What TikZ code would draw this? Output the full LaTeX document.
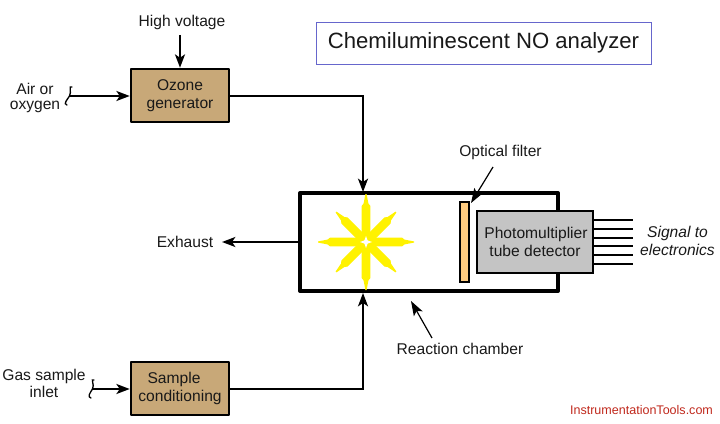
\documentclass[tikz,border=0pt]{standalone}
\usepackage{fontspec}
\setmainfont{Liberation Sans}
\usetikzlibrary{arrows.meta,calc}
\definecolor{boxtan}{HTML}{C8A878}
\definecolor{filterorange}{HTML}{FFCC80}
\definecolor{pmtgrey}{HTML}{C4C4C4}
\definecolor{titleblue}{HTML}{6666CC}
\definecolor{brandred}{HTML}{C0281C}
\tikzset{
  x=0.75pt,y=-0.75pt,
  lbl/.style={font=\fontsize{11.7}{13.5}\selectfont,align=center,inner sep=0pt,text=black!90},
  tanbox/.style={draw,fill=boxtan,line width=1.9pt,minimum width=73.5pt,minimum height=39.75pt,lbl,line join=round},
  flow/.style={line width=1.45pt,-{Stealth[length=10pt,width=7.5pt,inset=2.5pt]}},
  thin arrow/.style={line width=0.9pt,-{Stealth[length=11pt,width=7.5pt,inset=2.5pt]}},
  wire/.style={line width=1.5pt},
  wiggle/.style={line width=1pt,line cap=round},
}
\begin{document}
\begin{tikzpicture}
\useasboundingbox (0,0) rectangle (720,424);
% title
\node[draw=titleblue,line width=0.6pt,minimum width=251.25pt,minimum height=31.5pt,inner sep=0pt,font=\fontsize{16.6}{18}\selectfont,text=black!90] (title) at (483.5,43) {Chemiluminescent NO analyzer};
% boxes
\node[tanbox] (ozone) at (180,95.5) {\raisebox{-1pt}{Ozone}\\\raisebox{-1pt}{generator}};
\node[tanbox] (sample) at (180,388.5) {\raisebox{-1pt}{Sample\hspace{9pt}}\\\raisebox{-1pt}{conditioning}};
\node[draw,line width=3pt,line join=round,minimum width=193.5pt,minimum height=73.5pt] (chamber) at (429,242) {};
% star
\coordinate (starc) at (366,242);
\foreach \a/\r in {0/48,90/48,180/48,270/48,45/42.4,135/42.4,225/42.4,315/42.4}{
  \fill[yellow,shift={(starc)},rotate=\a] (0,4) -- (-4.4,4) -- (-4.4,{\r-12}) -- (-2.4,{\r-9.5}) -- (-0.6,\r) -- (0.6,\r) -- (2.4,{\r-9.5}) -- (4.4,{\r-12}) -- (4.4,4) -- cycle;
}
\fill[yellow,shift={(starc)}] (-7,-7) rectangle (7,7);
\fill[white,shift={(starc)}] (0,-6) -- (1.6,-1.6) -- (6,0) -- (1.6,1.6) -- (0,6) -- (-1.6,1.6) -- (-6,0) -- (-1.6,-1.6) -- cycle;
% filter and detector
\node[draw,fill=filterorange,line width=0.9pt,minimum width=6.75pt,minimum height=60pt,inner sep=0pt] (filter) at (464.5,242) {};
\foreach \n/\y in {a/220,b/229,c/237.5,d/246,e/255,f/264}{
  \coordinate (pin\n) at (593,\y);
  \coordinate (end\n) at (633,\y);
  \draw[wire] (pin\n) -- (end\n);
}
\node[draw,fill=pmtgrey,line width=1.3pt,minimum width=87pt,minimum height=46.5pt,lbl] (pmt) at (535,242) {\hspace{1.5pt}Photomultiplier\\tube detector};
% labels
\node[lbl] (hv) at (182,22.5) {High voltage};
\node[lbl,font=\fontsize{11.7}{10.6}\selectfont] (air) at (35,98) {Air or\hspace{2pt}\\oxygen};
\node[lbl,font=\fontsize{11.7}{12.8}\selectfont] (gas) at (44,383.5) {Gas sample\\inlet};
\node[lbl] (exhaust) at (185,242) {Exhaust};
\node[lbl] (optical) at (500.5,152.5) {Optical filter};
\node[lbl] (reaction) at (460,348.5) {Reaction chamber};
\node[lbl,font=\fontsize{11.7}{13.5}\itshape\selectfont] (signal) at (677.5,241) {Signal to\\electronics};
\node[inner sep=0pt,font=\fontsize{9.4}{11}\selectfont,text=brandred] (brand) at (641.5,410) {InstrumentationTools.com};
% connectors
\coordinate (topin) at (363,192);
\coordinate (botin) at (363,293);
\coordinate (hvs) at (180,35);
\coordinate (airs) at (70,96);
\coordinate (gass) at (92,389);
\coordinate (exs) at (298,242);
\coordinate (exe) at (222,242);
\coordinate (ofs) at (493,167);
\coordinate (ofe) at (471,203);
\coordinate (rcs) at (432,338);
\coordinate (rce) at (411,301);
\draw[flow] (hvs) -- (ozone.north -| hvs);
\draw[flow] (airs) -- (ozone.west |- airs);
\draw[flow] (gass) -- (sample.west |- gass);
\draw[flow] (ozone.east |- 0,96) -| (topin);
\draw[flow] (sample.east |- 0,389) -| (botin);
\draw[flow] (exs) -- (exe);
\draw[thin arrow] (ofs) -- (ofe);
\draw[thin arrow] (rcs) -- (rce);
% wiggles
\draw[wiggle] (72,87) .. controls (68,85) and (72,92) .. (69.5,96) .. controls (67,100) and (63,104) .. (67,105);
\draw[wiggle] (94,380) .. controls (90,378) and (95,385) .. (92.5,389) .. controls (90,393) and (87,397) .. (91,398);
\end{tikzpicture}
\end{document}
